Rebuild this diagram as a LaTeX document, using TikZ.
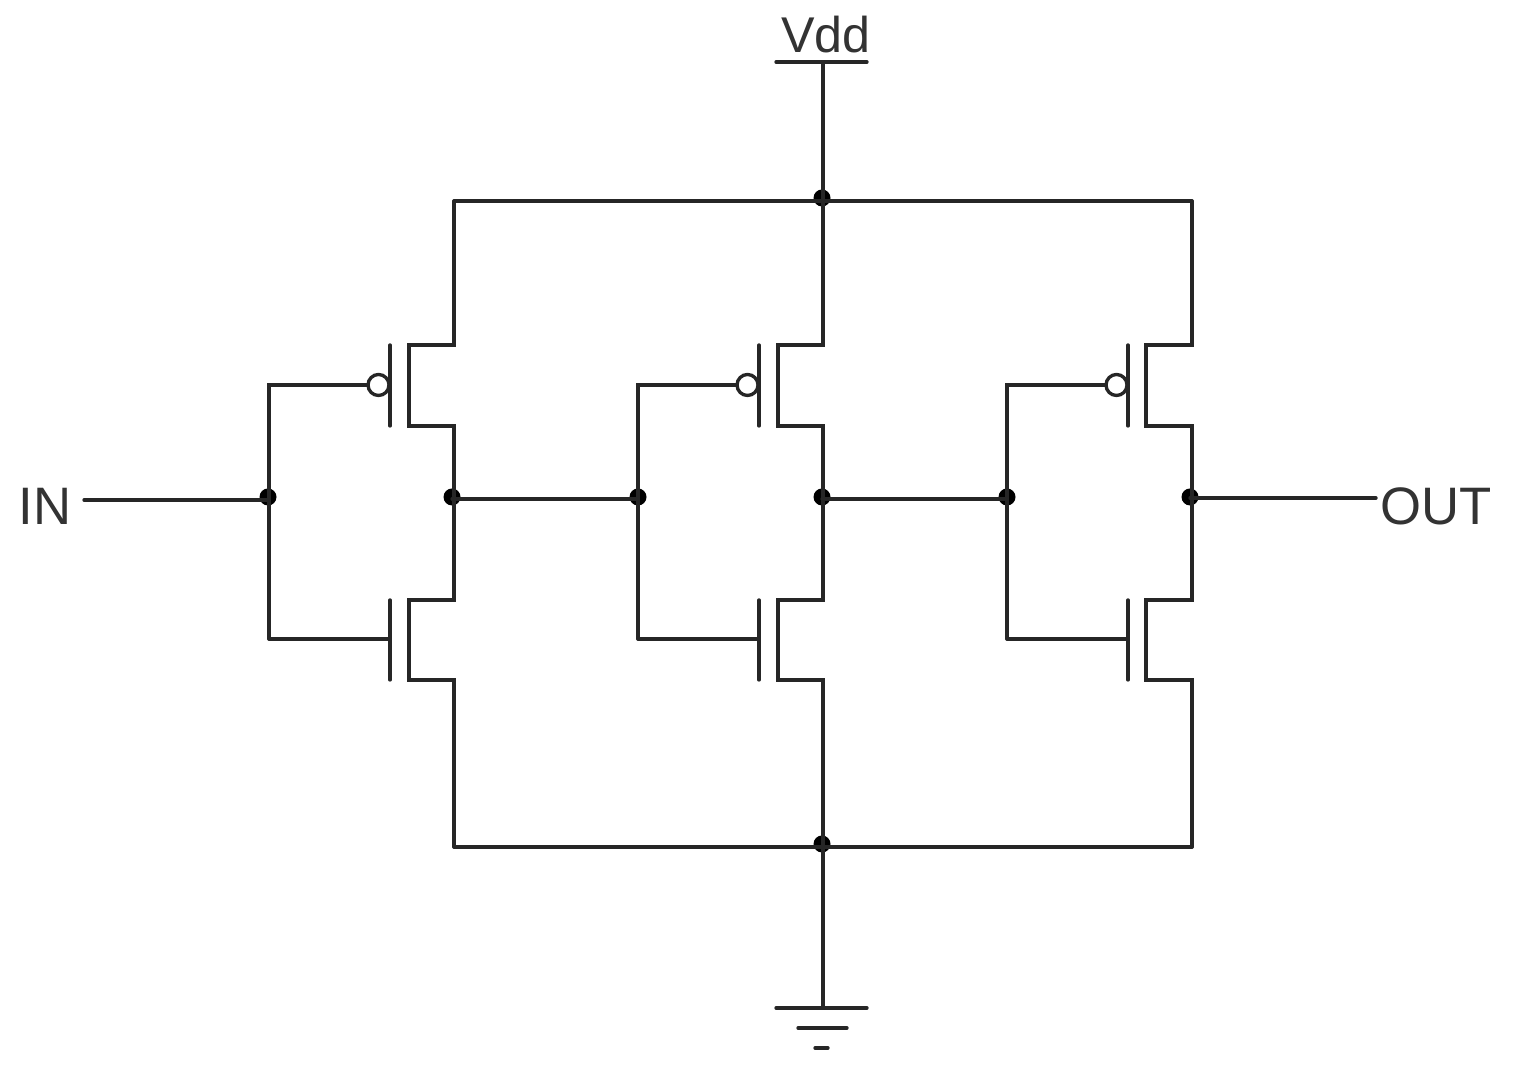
\documentclass[tikz,border=0pt]{standalone}
\usepackage{fontspec}
\setmainfont{Liberation Sans}
\usetikzlibrary{positioning,calc}
\tikzset{
  wire/.style = {line width = .95pt, black!85, line cap = round, line join = miter},
  junct/.style = {circle, fill = black, inner sep = 0pt, minimum size = .17cm},
  bubble/.style = {circle, draw = black!85, line width = .95pt, fill = white, inner sep = 0pt, minimum size = .21cm},
  lbl/.style = {inner ysep = 0pt, text = black!80, font = \fontsize{15}{15}\selectfont}
}
\begin{document}
\begin{tikzpicture}

\useasboundingbox (0,0) rectangle (15.13,10.66);

\coordinate (railtl) at (4.54,8.65);
\coordinate (railtm) at (8.23,8.65);
\coordinate (railtr) at (11.92,8.65);
\coordinate (railbl) at (4.54,2.19);
\coordinate (railbm) at (8.23,2.19);
\coordinate (railbr) at (11.92,2.19);

\coordinate (vddl) at (7.76,10.04);
\coordinate (vddr) at (8.67,10.04);
\coordinate (vddm) at (8.23,10.04);
\coordinate (gndm) at (8.23,.58);

\node[junct] (top) at (8.22,8.68) {};
\node[junct] (bot) at (8.22,2.22) {};

\node[lbl, inner xsep = .12cm, anchor = east] (in) at (.84,5.60) {IN};
\node[lbl, inner xsep = .04cm, anchor = west] (out) at (13.76,5.60) {OUT};
\node[lbl, inner xsep = 0pt, font = \fontsize{14.3}{14.3}\selectfont] (vdd) at (8.26,10.31) {Vdd};

\draw[wire] (railtl) -- (railtr);
\draw[wire] (railbl) -- (railbr);
\draw[wire] (vddl) -- (vddr);
\draw[wire] (vddm) -- (railtm);
\draw[wire] (railbm) -- (gndm);

\draw[wire] (7.76,.58) -- (8.67,.58);
\draw[wire] (7.98,.38) -- (8.47,.38);
\draw[wire] (8.15,.18) -- (8.28,.18);

%%%%%%%%%%%%%%%%%%%%%%%%%%%%%%%%

\begin{scope}[shift = {(0,0)}]

\coordinate (pa1) at (4.54,7.21);
\coordinate (pb1) at (4.09,7.21);
\coordinate (pc1) at (4.09,6.40);
\coordinate (pd1) at (4.54,6.40);
\coordinate (na1) at (4.54,4.66);
\coordinate (nb1) at (4.09,4.66);
\coordinate (nc1) at (4.09,3.86);
\coordinate (nd1) at (4.54,3.86);
\coordinate (pgt1) at (3.90,7.21);
\coordinate (pgb1) at (3.90,6.40);
\coordinate (ngt1) at (3.90,4.66);
\coordinate (ngb1) at (3.90,3.86);
\coordinate (ngm1) at (3.90,4.27);
\coordinate (pw1) at (2.69,6.81);
\coordinate (nw1) at (2.69,4.27);

\node[junct] (ji1) at (2.68,5.69) {};
\node[junct] (jo1) at (4.52,5.69) {};

\draw[wire] (railtl) -- (pa1) -- (pb1) -- (pc1) -- (pd1) -- (na1) -- (nb1) -- (nc1) -- (nd1) -- (railbl);
\draw[wire] (pgt1) -- (pgb1);
\draw[wire] (ngt1) -- (ngb1);

\node[bubble] (pg1) at (3.785,6.81) {};

\draw[wire] (nw1) -- (pw1) -- (pg1);
\draw[wire] (nw1) -- (ngm1);
\draw[wire] ([yshift = -.03cm]in.east |- ji1.center) -- ([yshift = -.03cm]ji1.center);

\end{scope}

%%%%%%%%%%%%%%%%%%%%%%%%%%%%%%%%

\begin{scope}[shift = {(3.69,0)}]

\coordinate (pa2) at (4.54,7.21);
\coordinate (pb2) at (4.09,7.21);
\coordinate (pc2) at (4.09,6.40);
\coordinate (pd2) at (4.54,6.40);
\coordinate (na2) at (4.54,4.66);
\coordinate (nb2) at (4.09,4.66);
\coordinate (nc2) at (4.09,3.86);
\coordinate (nd2) at (4.54,3.86);
\coordinate (pgt2) at (3.90,7.21);
\coordinate (pgb2) at (3.90,6.40);
\coordinate (ngt2) at (3.90,4.66);
\coordinate (ngb2) at (3.90,3.86);
\coordinate (ngm2) at (3.90,4.27);
\coordinate (pw2) at (2.69,6.81);
\coordinate (nw2) at (2.69,4.27);

\node[junct] (ji2) at (2.69,5.69) {};
\node[junct] (jo2) at (4.53,5.69) {};

\draw[wire] (railtm) -- (pa2) -- (pb2) -- (pc2) -- (pd2) -- (na2) -- (nb2) -- (nc2) -- (nd2) -- (railbm);
\draw[wire] (pgt2) -- (pgb2);
\draw[wire] (ngt2) -- (ngb2);

\node[bubble] (pg2) at (3.785,6.81) {};

\draw[wire] (nw2) -- (pw2) -- (pg2);
\draw[wire] (nw2) -- (ngm2);
\draw[wire] ([yshift = -.02cm]jo1.center) -- ([yshift = -.02cm]ji2.center);

\end{scope}

%%%%%%%%%%%%%%%%%%%%%%%%%%%%%%%%

\begin{scope}[shift = {(7.38,0)}]

\coordinate (pa3) at (4.54,7.21);
\coordinate (pb3) at (4.08,7.21);
\coordinate (pc3) at (4.08,6.40);
\coordinate (pd3) at (4.54,6.40);
\coordinate (na3) at (4.54,4.66);
\coordinate (nb3) at (4.08,4.66);
\coordinate (nc3) at (4.08,3.86);
\coordinate (nd3) at (4.54,3.86);
\coordinate (pgt3) at (3.90,7.21);
\coordinate (pgb3) at (3.90,6.40);
\coordinate (ngt3) at (3.90,4.66);
\coordinate (ngb3) at (3.90,3.86);
\coordinate (ngm3) at (3.90,4.27);
\coordinate (pw3) at (2.69,6.81);
\coordinate (nw3) at (2.69,4.27);

\node[junct] (ji3) at (2.69,5.69) {};
\node[junct] (jo3) at (4.52,5.69) {};

\draw[wire] (railtr) -- (pa3) -- (pb3) -- (pc3) -- (pd3) -- (na3) -- (nb3) -- (nc3) -- (nd3) -- (railbr);
\draw[wire] (pgt3) -- (pgb3);
\draw[wire] (ngt3) -- (ngb3);

\node[bubble] (pg3) at (3.785,6.81) {};

\draw[wire] (nw3) -- (pw3) -- (pg3);
\draw[wire] (nw3) -- (ngm3);
\draw[wire] ([yshift = -.02cm]jo2.center) -- ([yshift = -.02cm]ji3.center);
\draw[wire] ([yshift = -.01cm]jo3.center) -- ([yshift = -.01cm]out.west |- jo3.center);

\end{scope}
\end{tikzpicture}
\end{document}
